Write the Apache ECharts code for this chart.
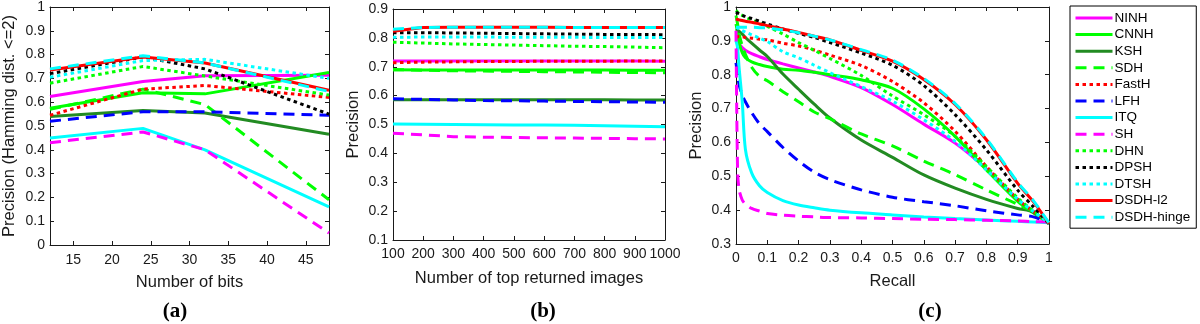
<!DOCTYPE html>
<html>
<head>
<meta charset="utf-8">
<script src="https://cdn.jsdelivr.net/npm/echarts@6/dist/echarts.min.js"></script>
<style>
  html, body { margin: 0; padding: 0; background: #fff; }
  #chart { width: 1200px; height: 324px; }
</style>
</head>
<body>
<div id="chart"></div>
<script>
// method names, in legend order
const methods = ['NINH', 'CNNH', 'KSH', 'SDH', 'FastH', 'LFH', 'ITQ', 'SH', 'DHN', 'DPSH', 'DTSH', 'DSDH-l2', 'DSDH-hinge'];

// (a) precision within Hamming radius 2 vs code length
const bits = [12, 24, 32, 48];
const bitTicks = [15, 20, 25, 30, 35, 40, 45];
const hammingPrec = {
  'NINH':       [0.624, 0.687, 0.711, 0.713],
  'CNNH':       [0.575, 0.640, 0.635, 0.725],
  'KSH':        [0.540, 0.565, 0.555, 0.465],
  'SDH':        [0.570, 0.655, 0.590, 0.190],
  'FastH':      [0.545, 0.655, 0.670, 0.620],
  'LFH':        [0.520, 0.560, 0.560, 0.545],
  'ITQ':        [0.450, 0.490, 0.400, 0.160],
  'SH':         [0.430, 0.475, 0.400, 0.050],
  'DHN':        [0.680, 0.750, 0.710, 0.630],
  'DPSH':       [0.720, 0.790, 0.740, 0.550],
  'DTSH':       [0.705, 0.775, 0.780, 0.700],
  'DSDH-l2':    [0.735, 0.790, 0.765, 0.650],
  'DSDH-hinge': [0.740, 0.795, 0.765, 0.645]
};

// (b) precision vs number of top returned images
const topN = [100, 200, 300, 400, 500, 600, 700, 800, 900, 1000];
const topPrec = {
  'NINH':       [0.720, 0.720, 0.720, 0.720, 0.720, 0.720, 0.720, 0.720, 0.720, 0.719],
  'CNNH':       [0.690, 0.689, 0.689, 0.689, 0.689, 0.689, 0.689, 0.689, 0.688, 0.688],
  'KSH':        [0.586, 0.586, 0.586, 0.586, 0.586, 0.586, 0.586, 0.586, 0.585, 0.585],
  'SDH':        [0.690, 0.688, 0.686, 0.685, 0.684, 0.683, 0.682, 0.681, 0.680, 0.679],
  'FastH':      [0.714, 0.716, 0.717, 0.718, 0.718, 0.719, 0.719, 0.719, 0.720, 0.720],
  'LFH':        [0.589, 0.587, 0.585, 0.583, 0.582, 0.581, 0.580, 0.579, 0.578, 0.577],
  'ITQ':        [0.502, 0.501, 0.500, 0.499, 0.498, 0.498, 0.497, 0.496, 0.494, 0.492],
  'SH':         [0.470, 0.464, 0.458, 0.456, 0.455, 0.454, 0.453, 0.452, 0.451, 0.450],
  'DHN':        [0.785, 0.782, 0.779, 0.777, 0.775, 0.773, 0.771, 0.770, 0.768, 0.766],
  'DPSH':       [0.818, 0.818, 0.817, 0.816, 0.815, 0.814, 0.813, 0.812, 0.812, 0.811],
  'DTSH':       [0.802, 0.803, 0.803, 0.803, 0.802, 0.802, 0.802, 0.801, 0.801, 0.801],
  'DSDH-l2':    [0.823, 0.836, 0.837, 0.837, 0.837, 0.837, 0.836, 0.836, 0.836, 0.836],
  'DSDH-hinge': [0.830, 0.836, 0.837, 0.837, 0.837, 0.837, 0.836, 0.836, 0.836, 0.836]
};

// (c) precision-recall curves
const recall = [0, 0.005, 0.01, 0.02, 0.03, 0.05, 0.075, 0.1, 0.15, 0.2, 0.25, 0.3, 0.4, 0.5, 0.6, 0.7, 0.8, 0.9, 0.95, 1.0];
const prPrec = {
  'NINH':       [0.900, 0.895, 0.890, 0.880, 0.872, 0.862, 0.853, 0.845, 0.832, 0.820, 0.808, 0.795, 0.762, 0.712, 0.654, 0.598, 0.522, 0.432, 0.396, 0.360],
  'CNNH':       [0.950, 0.925, 0.895, 0.865, 0.850, 0.838, 0.830, 0.824, 0.816, 0.813, 0.807, 0.800, 0.785, 0.760, 0.699, 0.618, 0.519, 0.426, 0.392, 0.360],
  'KSH':        [0.935, 0.932, 0.928, 0.920, 0.910, 0.893, 0.873, 0.854, 0.802, 0.757, 0.713, 0.672, 0.607, 0.556, 0.504, 0.465, 0.432, 0.405, 0.394, 0.360],
  'SDH':        [0.975, 0.950, 0.920, 0.885, 0.860, 0.822, 0.795, 0.782, 0.750, 0.720, 0.690, 0.670, 0.625, 0.590, 0.545, 0.505, 0.460, 0.417, 0.395, 0.362],
  'FastH':      [0.910, 0.912, 0.913, 0.912, 0.910, 0.908, 0.905, 0.903, 0.893, 0.885, 0.873, 0.858, 0.827, 0.780, 0.717, 0.633, 0.529, 0.432, 0.396, 0.360],
  'LFH':        [0.835, 0.800, 0.770, 0.740, 0.720, 0.688, 0.655, 0.632, 0.585, 0.545, 0.512, 0.490, 0.460, 0.438, 0.425, 0.413, 0.398, 0.386, 0.380, 0.362],
  'ITQ':        [0.900, 0.880, 0.820, 0.720, 0.580, 0.510, 0.472, 0.452, 0.428, 0.415, 0.407, 0.400, 0.392, 0.386, 0.380, 0.375, 0.371, 0.367, 0.365, 0.363],
  'SH':         [0.930, 0.520, 0.460, 0.430, 0.418, 0.405, 0.397, 0.390, 0.385, 0.382, 0.380, 0.378, 0.377, 0.375, 0.373, 0.372, 0.370, 0.368, 0.366, 0.365],
  'DHN':        [0.990, 0.985, 0.980, 0.975, 0.970, 0.962, 0.952, 0.943, 0.920, 0.895, 0.872, 0.848, 0.798, 0.737, 0.682, 0.618, 0.529, 0.436, 0.398, 0.362],
  'DPSH':       [0.985, 0.982, 0.980, 0.975, 0.972, 0.966, 0.958, 0.950, 0.935, 0.922, 0.910, 0.895, 0.864, 0.828, 0.768, 0.682, 0.578, 0.459, 0.410, 0.360],
  'DTSH':       [0.940, 0.938, 0.935, 0.930, 0.926, 0.918, 0.908, 0.898, 0.868, 0.850, 0.828, 0.806, 0.765, 0.722, 0.667, 0.603, 0.519, 0.432, 0.396, 0.362],
  'DSDH-l2':    [0.965, 0.963, 0.962, 0.960, 0.958, 0.955, 0.950, 0.945, 0.935, 0.925, 0.914, 0.903, 0.872, 0.840, 0.786, 0.712, 0.608, 0.479, 0.425, 0.360],
  'DSDH-hinge': [0.940, 0.940, 0.940, 0.940, 0.940, 0.940, 0.939, 0.938, 0.932, 0.924, 0.914, 0.903, 0.874, 0.843, 0.789, 0.715, 0.611, 0.482, 0.428, 0.362]
};

const dash = [11, 7];
const dot = [3.5, 3.5];
const styles = {
  'NINH':       { color: '#ff00ff', type: 'solid' },
  'CNNH':       { color: '#00ff00', type: 'solid' },
  'KSH':        { color: '#228b22', type: 'solid' },
  'SDH':        { color: '#00ff00', type: dash },
  'FastH':      { color: '#ff0000', type: dot },
  'LFH':        { color: '#0000ff', type: dash },
  'ITQ':        { color: '#00ffff', type: 'solid' },
  'SH':         { color: '#ff00ff', type: dash },
  'DHN':        { color: '#00ff00', type: dot },
  'DPSH':       { color: '#000000', type: dot },
  'DTSH':       { color: '#00ffff', type: dot },
  'DSDH-l2':    { color: '#ff0000', type: 'solid' },
  'DSDH-hinge': { color: '#00ffff', type: dash }
};

const font = 'Liberation Sans, Arial, sans-serif';
const ink = '#1a1a1a';
const plainNum = v => String(Math.round(v * 1000) / 1000);

function bottomAxis(grid, min, max, interval, name, nameGap, extra) {
  return Object.assign({
    type: 'value', gridIndex: grid, position: 'bottom', min, max, interval,
    name, nameLocation: 'middle', nameGap,
    nameTextStyle: { fontFamily: font, fontSize: 16.5, color: ink },
    axisLine: { show: true, onZero: false, lineStyle: { color: ink, width: 1 } },
    axisTick: { show: true, inside: true, length: 4, lineStyle: { color: ink } },
    axisLabel: { fontFamily: font, fontSize: 14, color: ink, margin: 7, formatter: plainNum },
    splitLine: { show: false }
  }, extra || {});
}
function topAxis(grid, min, max, interval, extra) {
  return Object.assign({
    type: 'value', gridIndex: grid, position: 'top', min, max, interval,
    axisLine: { show: true, onZero: false, lineStyle: { color: ink, width: 1 } },
    axisTick: { show: true, inside: true, length: 4, lineStyle: { color: ink } },
    axisLabel: { show: false },
    splitLine: { show: false }
  }, extra || {});
}
function leftAxis(grid, min, max, interval, name, nameGap) {
  return {
    type: 'value', gridIndex: grid, position: 'left', min, max, interval,
    name, nameLocation: 'middle', nameGap,
    nameTextStyle: { fontFamily: font, fontSize: 16.5, color: ink },
    axisLine: { show: true, onZero: false, lineStyle: { color: ink, width: 1 } },
    axisTick: { show: true, inside: true, length: 4, lineStyle: { color: ink } },
    axisLabel: { fontFamily: font, fontSize: 14, color: ink, margin: 5, formatter: plainNum },
    splitLine: { show: false }
  };
}
function rightAxis(grid, min, max, interval) {
  return {
    type: 'value', gridIndex: grid, position: 'right', min, max, interval,
    axisLine: { show: true, onZero: false, lineStyle: { color: ink, width: 1 } },
    axisTick: { show: true, inside: true, length: 4, lineStyle: { color: ink } },
    axisLabel: { show: false },
    splitLine: { show: false }
  };
}

function makeSeries(panel, xs, table, smooth) {
  return methods.map(m => ({
    name: m, type: 'line',
    xAxisIndex: panel * 2, yAxisIndex: panel * 2,
    data: xs.map((x, i) => [x, table[m][i]]),
    symbol: 'none',
    smooth: smooth || false,
    lineStyle: { color: styles[m].color, width: 3, type: styles[m].type, cap: 'butt' },
    itemStyle: { color: styles[m].color },
    emphasis: { disabled: true }
  }));
}

const chart = echarts.init(document.getElementById('chart'), null, { renderer: 'canvas' });

const panelLabel = { fontFamily: 'Liberation Serif, serif', fontWeight: 'bold', fontSize: 21, color: '#000' };

chart.setOption({
  animation: false,
  backgroundColor: '#fff',
  grid: [
    { left: 48, top: 7, width: 281, height: 238 },
    { left: 393, top: 9, width: 272, height: 231 },
    { left: 736, top: 7, width: 313, height: 237 }
  ],
  xAxis: [
    bottomAxis(0, 12, 48, 5, 'Number of bits', 29, {
      axisTick: { show: true, inside: true, length: 4, lineStyle: { color: ink }, customValues: bitTicks },
      axisLabel: { fontFamily: font, fontSize: 14, color: ink, margin: 8, customValues: bitTicks }
    }),
    topAxis(0, 12, 48, 5, {
      axisTick: { show: true, inside: true, length: 4, lineStyle: { color: ink }, customValues: bitTicks }
    }),
    bottomAxis(1, 100, 1000, 100, 'Number of top returned images', 30),
    topAxis(1, 100, 1000, 100),
    bottomAxis(2, 0, 1, 0.1, 'Recall', 29),
    topAxis(2, 0, 1, 0.1)
  ],
  yAxis: [
    leftAxis(0, 0, 1, 0.1, 'Precision (Hamming dist. <=2)', 32),
    rightAxis(0, 0, 1, 0.1),
    leftAxis(1, 0.1, 0.9, 0.1, 'Precision', 31),
    rightAxis(1, 0.1, 0.9, 0.1),
    leftAxis(2, 0.3, 1, 0.1, 'Precision', 31),
    rightAxis(2, 0.3, 1, 0.1)
  ],
  legend: {
    orient: 'vertical',
    left: 1070, top: 6,
    data: methods,
    itemWidth: 37, itemHeight: 14, itemGap: 2.6,
    padding: [5, 6, 4, 4],
    borderColor: '#000', borderWidth: 1,
    backgroundColor: '#fff',
    selectedMode: false,
    textStyle: { fontFamily: font, fontSize: 13.5, color: '#000', padding: [0, 0, 0, -3] },
    lineStyle: { width: 3 },
    itemStyle: { opacity: 0 }
  },
  title: [
    { text: '(a)', left: 170, top: 296, textAlign: 'center', textStyle: panelLabel },
    { text: '(b)', left: 538, top: 296, textAlign: 'center', textStyle: panelLabel },
    { text: '(c)', left: 925, top: 296, textAlign: 'center', textStyle: panelLabel }
  ],
  series: [].concat(
    makeSeries(0, bits, hammingPrec),
    makeSeries(1, topN, topPrec),
    makeSeries(2, recall, prPrec, 0.3)
  )
});
</script>
</body>
</html>
